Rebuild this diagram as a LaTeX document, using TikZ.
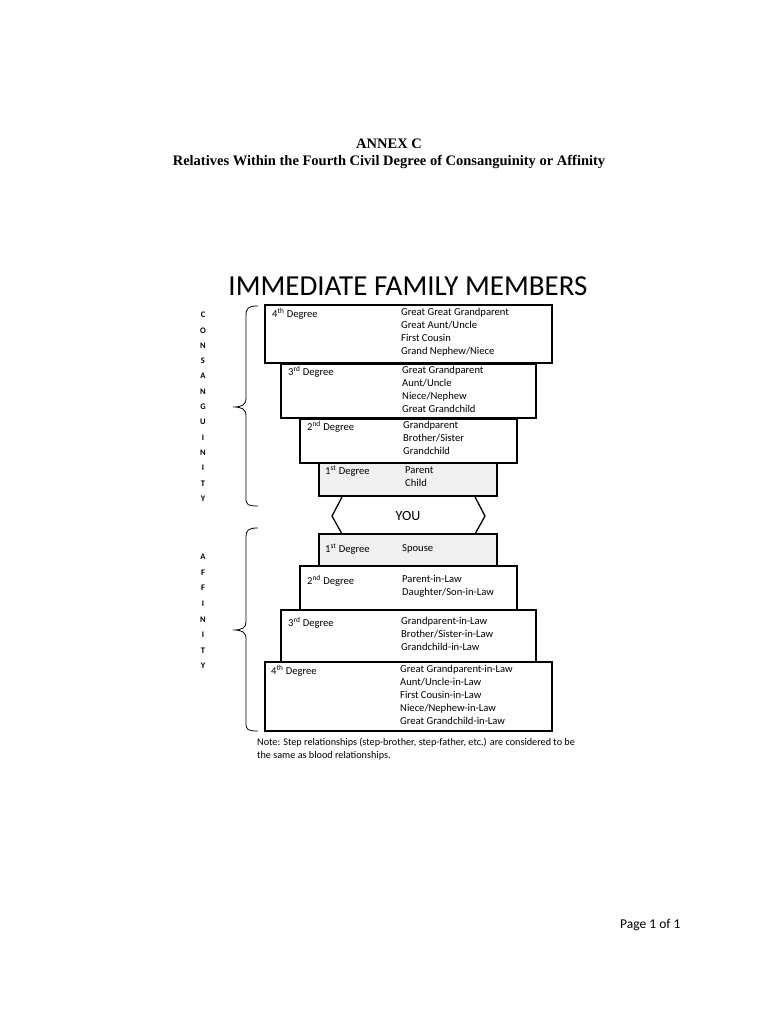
\documentclass[tikz,border=0pt]{standalone}
\usepackage{fontspec}
\setmainfont{Carlito}
\newfontfamily\serifb{Liberation Serif}
\begin{document}
\begin{tikzpicture}[x=1pt,y=-1pt,
  box/.style={draw=black,line width=1.3pt},
  lite/.style={box,fill=black!6},
  t/.style={anchor=north west,inner sep=0pt,font=\fontsize{10.6}{13}\selectfont,align=left},
  lt/.style={anchor=center,inner sep=0pt,font=\fontsize{8.5}{8.5}\selectfont\bfseries},
  br/.style={line width=0.8pt}]
\useasboundingbox (0,0) rectangle (768,1024);
\fill[white] (0,0) rectangle (768,1024);
\node (h1) at (389,144) {\serifb\bfseries\fontsize{14.5}{16}\selectfont ANNEX C};
\node (h2) at (389,162) {\serifb\bfseries\fontsize{14.5}{16}\selectfont Relatives Within the Fourth Civil Degree of Consanguinity or Affinity};
\node (title) at (408,286) {\fontsize{29}{30}\selectfont IMMEDIATE FAMILY MEMBERS};
% consanguinity boxes
\draw[box] (265,305) rectangle (552,363);
\draw[box] (281,364) rectangle (536,418);
\draw[box] (300,419) rectangle (517,463);
\draw[lite] (319,463) rectangle (497,496);
\node[t] (c4a) at (272,308) {4\textsuperscript{th} Degree};
\node[t] (c4b) at (401,308) {Great Great Grandparent\\Great Aunt/Uncle\\First Cousin\\Grand Nephew/Niece};
\node[t] (c3a) at (288,366) {3\textsuperscript{rd} Degree};
\node[t] (c3b) at (402,366) {Great Grandparent\\Aunt/Uncle\\Niece/Nephew\\Great Grandchild};
\node[t] (c2a) at (307,421) {2\textsuperscript{nd} Degree};
\node[t] (c2b) at (403,421) {Grandparent\\Brother/Sister\\Grandchild};
\node[t] (c1a) at (325,466) {1\textsuperscript{st} Degree};
\node[t] (c1b) at (405,466) {Parent\\Child};
% YOU
\draw[line width=1.3pt,fill=white] (342,497) -- (332,516) -- (342,534) (475,497) -- (485,516) -- (475,534);
\node (you) at (408,516) {\fontsize{14}{14}\selectfont YOU};
% affinity boxes
\draw[lite] (319,534) rectangle (497,566);
\draw[box] (300,566) rectangle (517,610);
\draw[box] (281,610) rectangle (536,662);
\draw[box] (265,662) rectangle (552,731);
\node[t] (a1a) at (325,544) {1\textsuperscript{st} Degree};
\node[t] (a1b) at (402,544) {Spouse};
\node[t] (a2a) at (307,575) {2\textsuperscript{nd} Degree};
\node[t] (a2b) at (402,575) {Parent-in-Law\\Daughter/Son-in-Law};
\node[t] (a3a) at (288,617) {3\textsuperscript{rd} Degree};
\node[t] (a3b) at (401,617) {Grandparent-in-Law\\Brother/Sister-in-Law\\Grandchild-in-Law};
\node[t] (a4a) at (271,665) {4\textsuperscript{th} Degree};
\node[t] (a4b) at (400,665) {Great Grandparent-in-Law\\Aunt/Uncle-in-Law\\First Cousin-in-Law\\Niece/Nephew-in-Law\\Great Grandchild-in-Law};
% braces
\draw[br] (258,306) .. controls (248,306) and (246,308) .. (246,316) -- (246,398) .. controls (246,405) and (242,407) .. (233,407)
  (233,407) .. controls (242,407) and (246,409) .. (246,416) -- (246,498) .. controls (246,505) and (248,506) .. (258,506);
\draw[br] (258,528) .. controls (248,528) and (246,530) .. (246,538) -- (246,622) .. controls (246,628) and (242,630) .. (233,630)
  (233,630) .. controls (242,630) and (246,632) .. (246,639) -- (246,723) .. controls (246,730) and (248,731) .. (258,731);
\foreach \l [count=\i from 0] in {C,O,N,S,A,N,G,U,I,N,I,T,Y}
  \node[lt] (cl\i) at (203,315+15.3*\i) {\l};
\foreach \l [count=\i from 0] in {A,F,F,I,N,I,T,Y}
  \node[lt] (al\i) at (203,557+15.6*\i) {\l};
\node[t,font=\fontsize{10.2}{13}\selectfont] (note) at (257,738) {Note: Step relationships (step-brother, step-father, etc.) are considered to be\\the same as blood relationships.};
\node[anchor=west,inner sep=0pt] (page) at (620,925) {\fontsize{13.5}{14}\selectfont Page 1 of 1};
\end{tikzpicture}
\end{document}
